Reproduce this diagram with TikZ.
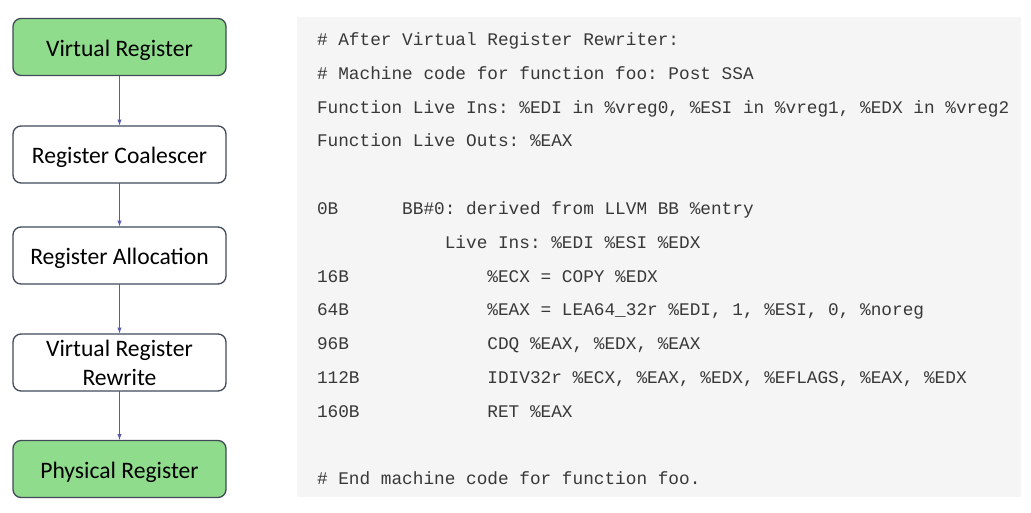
\documentclass[tikz,border=0pt]{standalone}
\usepackage{fontspec}
\setmainfont{Carlito}
\setmonofont{Liberation Mono}
\usepackage{tikz}
\usetikzlibrary{arrows}

\begin{document}
\begin{tikzpicture}[x=1pt,y=-1pt,line cap=rect,
	passbox/.style={draw=custcol_40_4a_5a, line width=1.3pt, rounded corners=8pt,
		minimum width=213pt, minimum height=57pt, inner sep=0, align=center,
		text height=23.6pt, text depth=4.7pt,
		font=\fontsize{23.6pt}{29pt}\selectfont},
	twoline/.style={text height=, text depth=},
	endbox/.style={passbox, fill=custcol_8f_dc_8c},
	flow/.style={-latex, line width=1.0pt, custcol_5a_5a_aa},
	code/.style={inner sep=0, outer sep=0, anchor=base west, custcol_38_38_38,
		font=\ttfamily\fontsize{17.75pt}{17.75pt}\selectfont}]
						\definecolor{custcol_40_4a_5a}{RGB}{64, 74, 90}
						\definecolor{custcol_8f_dc_8c}{RGB}{143, 220, 140}
						\definecolor{custcol_5a_5a_aa}{RGB}{90, 90, 170}
						\definecolor{custcol_38_38_38}{RGB}{56, 56, 56}
						\definecolor{custcol_f5_f5_f5}{RGB}{245, 245, 245}
						\useasboundingbox (0.0,0.0) rectangle (1031.0,513.0);
						% pass pipeline
						\node[endbox] (virtreg) at (119.5,47.0) {Virtual Register};
						\node[passbox] (coalescer) at (119.5,154.5) {Register Coalescer};
						\node[passbox] (alloc) at (119.5,255.5) {Register Allocation};
						\node[passbox, twoline] (rewrite) at (119.5,362.5) {Virtual Register\\Rewrite};
						\node[endbox] (physreg) at (119.5,469.0) {Physical Register};
						\draw [flow] (virtreg) -- (coalescer);
						\draw [flow] (coalescer) -- (alloc);
						\draw [flow] (alloc) -- (rewrite);
						\draw [flow] (rewrite) -- (physreg);
						% machine code listing
						\fill [custcol_f5_f5_f5] (297.0,17.0) rectangle (1021.0,497.0);
						\node[code] (hdrA) at (317.0,45.5) {\# After Virtual Register Rewriter:};
						\node[code] (hdrB) at (317.0,79.3) {\# Machine code for function foo: Post SSA};
						\node[code] (liveins) at (317.0,113.1) {Function Live Ins: \%EDI in \%vreg0, \%ESI in \%vreg1, \%EDX in \%vreg2};
						\node[code] (liveouts) at (317.0,146.9) {Function Live Outs: \%EAX};
						\node[code] (offA) at (317.0,214.5) {0B};
						\node[code] (bbhead) at (402.2,214.5) {BB\#0: derived from LLVM BB \%entry};
						\node[code] (bbins) at (444.8,248.3) {Live Ins: \%EDI \%ESI \%EDX};
						\node[code] (offB) at (317.0,282.1) {16B};
						\node[code] (instA) at (487.4,282.1) {\%ECX = COPY \%EDX};
						\node[code] (offC) at (317.0,315.9) {64B};
						\node[code] (instB) at (487.4,315.9) {\%EAX = LEA64\_32r \%EDI, 1, \%ESI, 0, \%noreg};
						\node[code] (offD) at (317.0,349.7) {96B};
						\node[code] (instC) at (487.4,349.7) {CDQ \%EAX, \%EDX, \%EAX};
						\node[code] (offE) at (317.0,383.5) {112B};
						\node[code] (instD) at (487.4,383.5) {IDIV32r \%ECX, \%EAX, \%EDX, \%EFLAGS, \%EAX, \%EDX};
						\node[code] (offF) at (317.0,417.3) {160B};
						\node[code] (instE) at (487.4,417.3) {RET \%EAX};
						\node[code] (ftr) at (317.0,484.0) {\# End machine code for function foo.};
\end{tikzpicture}
\end{document}
